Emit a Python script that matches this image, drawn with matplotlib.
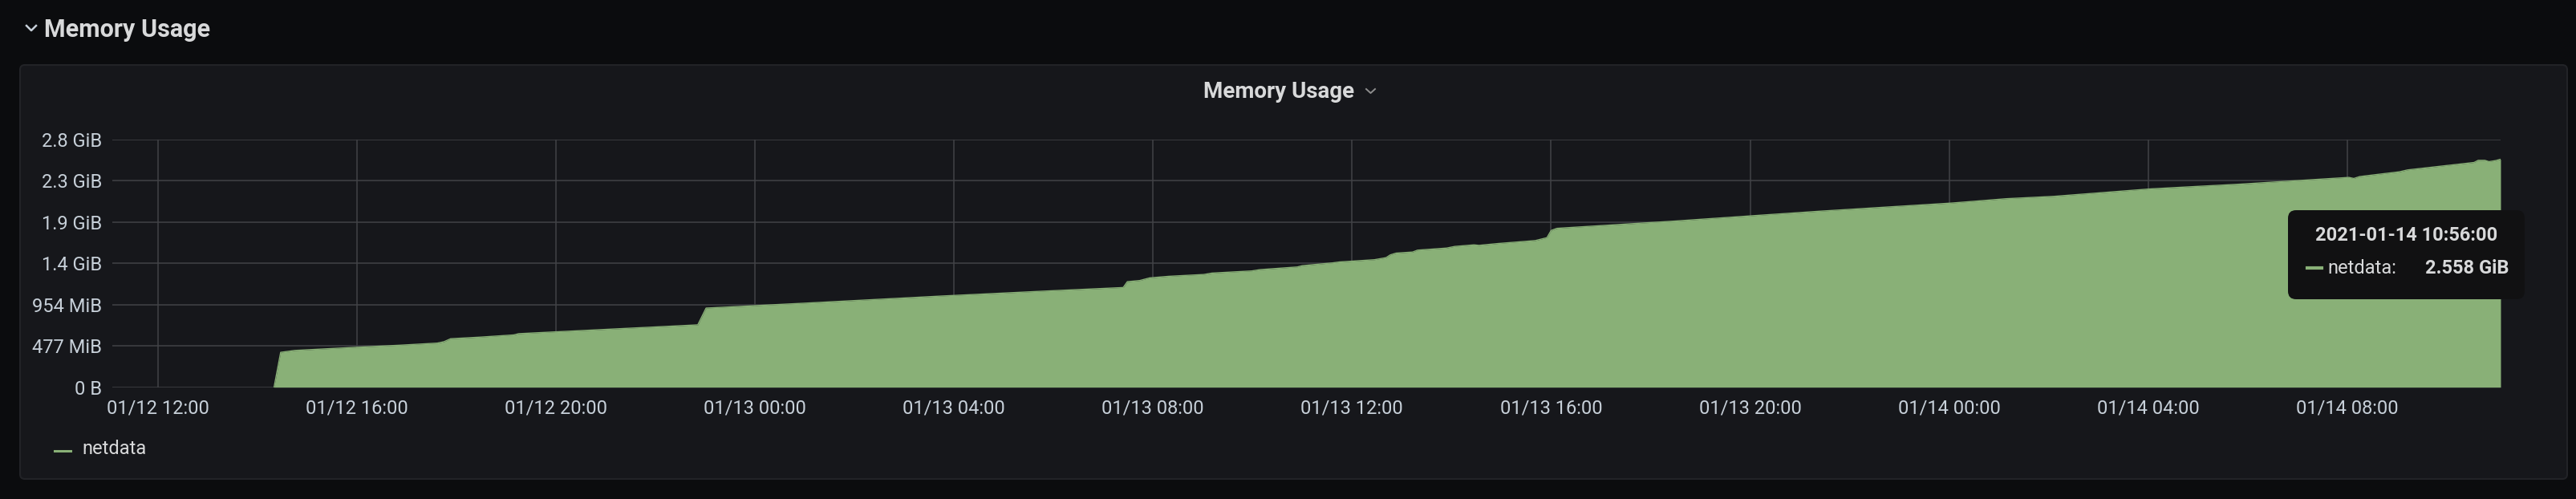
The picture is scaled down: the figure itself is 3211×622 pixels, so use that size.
import pandas as pd
import matplotlib.pyplot as plt
import matplotlib.dates as mdates
from matplotlib.patches import FancyBboxPatch
from matplotlib.lines import Line2D
from matplotlib.transforms import IdentityTransform

times = [
    "2021-01-12 14:20", "2021-01-12 14:28", "2021-01-12 14:45", "2021-01-12 16:00",
    "2021-01-12 16:53", "2021-01-12 17:37", "2021-01-12 17:45", "2021-01-12 17:53",
    "2021-01-12 18:30", "2021-01-12 19:09", "2021-01-12 19:15", "2021-01-12 22:51",
    "2021-01-12 23:01", "2021-01-13 00:57", "2021-01-13 03:45", "2021-01-13 06:00",
    "2021-01-13 07:24", "2021-01-13 07:29", "2021-01-13 07:44", "2021-01-13 07:56",
    "2021-01-13 08:19", "2021-01-13 09:01", "2021-01-13 09:11", "2021-01-13 09:59",
    "2021-01-13 10:09", "2021-01-13 10:54", "2021-01-13 11:00", "2021-01-13 11:36",
    "2021-01-13 11:45", "2021-01-13 12:27", "2021-01-13 12:41", "2021-01-13 12:46",
    "2021-01-13 12:53", "2021-01-13 13:13", "2021-01-13 13:19", "2021-01-13 13:54",
    "2021-01-13 14:04", "2021-01-13 14:27", "2021-01-13 14:33", "2021-01-13 14:56",
    "2021-01-13 15:41", "2021-01-13 15:55", "2021-01-13 16:00", "2021-01-13 16:07",
    "2021-01-13 17:05", "2021-01-13 18:29", "2021-01-13 20:02", "2021-01-13 21:23",
    "2021-01-14 00:04", "2021-01-14 01:09", "2021-01-14 02:07", "2021-01-14 03:05",
    "2021-01-14 04:03", "2021-01-14 05:52", "2021-01-14 08:02", "2021-01-14 08:08",
    "2021-01-14 08:15", "2021-01-14 09:03", "2021-01-14 09:13", "2021-01-14 10:33",
    "2021-01-14 10:38", "2021-01-14 10:46", "2021-01-14 10:51", "2021-01-14 10:59",
    "2021-01-14 11:05",
]
netdata = [
    0.0, 0.423, 0.446, 0.485,
    0.510, 0.535, 0.552, 0.588,
    0.608, 0.634, 0.649, 0.756,
    0.959, 1.017, 1.105, 1.170,
    1.208, 1.279, 1.293, 1.325,
    1.344, 1.366, 1.383, 1.409,
    1.425, 1.457, 1.473, 1.506,
    1.518, 1.545, 1.570, 1.603,
    1.625, 1.638, 1.661, 1.686,
    1.706, 1.725, 1.719, 1.741,
    1.777, 1.812, 1.899, 1.925,
    1.961, 2.013, 2.077, 2.132,
    2.232, 2.284, 2.313, 2.358,
    2.403, 2.461, 2.542, 2.529,
    2.552, 2.610, 2.633, 2.723,
    2.749, 2.749, 2.733, 2.746,
    2.762,
]
y_ticks = [0, 0.5, 1.0, 1.5, 2.0, 2.5, 3.0]
y_labels = ["0 B", "477 MiB", "954 MiB", "1.4 GiB", "1.9 GiB", "2.3 GiB", "2.8 GiB"]
x_start, x_end = "2021-01-12 11:05", "2021-01-14 11:05"
tooltip_time = "2021-01-14 10:56:00"
tooltip_value = "2.558 GiB"

W, H = 3212, 622
BG = "#0b0c0e"
PANEL = "#16171b"
GRID = "#424347"
TXT = "#c7d0d9"
GREEN = "#89b077"

plt.rcParams["font.family"] = ["Roboto", "DejaVu Sans"]

fig = plt.figure(figsize=(W / 100, H / 100), dpi=100, facecolor=BG)

def fx(x):
    return x / W

def fy(y):
    return 1 - y / H

# panel
fig.add_artist(FancyBboxPatch((25, H - 597), 3175, 516, boxstyle="round,pad=0,rounding_size=6",
                              transform=IdentityTransform(), facecolor=PANEL,
                              edgecolor="#222327", linewidth=1.5, zorder=0))

# titulo de fila con chevron
fig.add_artist(Line2D([fx(33), fx(39), fx(45)], [fy(32), fy(38), fy(32)], color="#c7d0d9", lw=1.8))
fig.text(fx(55), fy(37), "Memory Usage", fontsize=22, fontweight="semibold", color="#d8d9da",
         va="center", ha="left")

# titulo del panel
fig.text(fx(1594), fy(114.5), "Memory Usage", fontsize=20, fontweight="semibold", color="#d8d9da",
         va="center", ha="center")
fig.add_artist(Line2D([fx(1703), fx(1708.5), fx(1714)], [fy(111), fy(116), fy(111)], color="#8e8e8e", lw=1.4))

ax = fig.add_axes([fx(140), fy(482.7), fx(3117) - fx(140), fy(174) - fy(482.7)])
ax.set_facecolor(PANEL)

t = pd.to_datetime(times)
ax.fill_between(t, 0, netdata, color=GREEN, lw=0, zorder=2)
ax.plot(t, netdata, color=GREEN, lw=1, zorder=3)

ax.set_xlim(pd.Timestamp(x_start), pd.Timestamp(x_end))
ax.set_ylim(0, 3.0)
ax.set_yticks(y_ticks)
ax.set_yticklabels(y_labels)
ax.xaxis.set_major_locator(mdates.HourLocator(byhour=[0, 4, 8, 12, 16, 20]))
ax.xaxis.set_major_formatter(mdates.DateFormatter("%m/%d %H:%M"))

ax.set_axisbelow(True)
ax.grid(True, color=GRID, lw=1.1)
for s in ax.spines.values():
    s.set_visible(False)
ax.tick_params(length=0, labelsize=17, labelcolor=TXT)
ax.tick_params(axis="y", pad=9)
ax.tick_params(axis="x", pad=11)

# leyenda
fig.add_artist(Line2D([fx(68), fx(88)], [fy(562), fy(562)], color=GREEN, lw=2.2))
fig.text(fx(102), fy(560), "netdata", fontsize=17, color="#d8d9da", va="center", ha="left")

# tooltip
fig.add_artist(FancyBboxPatch((2852, H - 373), 295, 111, boxstyle="round,pad=0,rounding_size=10",
                              transform=IdentityTransform(), facecolor="#111112",
                              edgecolor="none", zorder=5))
fig.text(fx(3000), fy(293), tooltip_time, fontsize=17, fontweight="bold", color="#d8d9da",
         va="center", ha="center", zorder=6)
fig.add_artist(Line2D([fx(2876), fx(2894)], [fy(334), fy(334)], color=GREEN, lw=3, zorder=6))
fig.text(fx(2901), fy(335), "netdata:", fontsize=17, color="#d8d9da", va="center", ha="left", zorder=6)
fig.text(fx(3023), fy(335), tooltip_value, fontsize=17, fontweight="bold", color="#d8d9da",
         va="center", ha="left", zorder=6)

fig.savefig("out.png", dpi=100, facecolor=BG)
